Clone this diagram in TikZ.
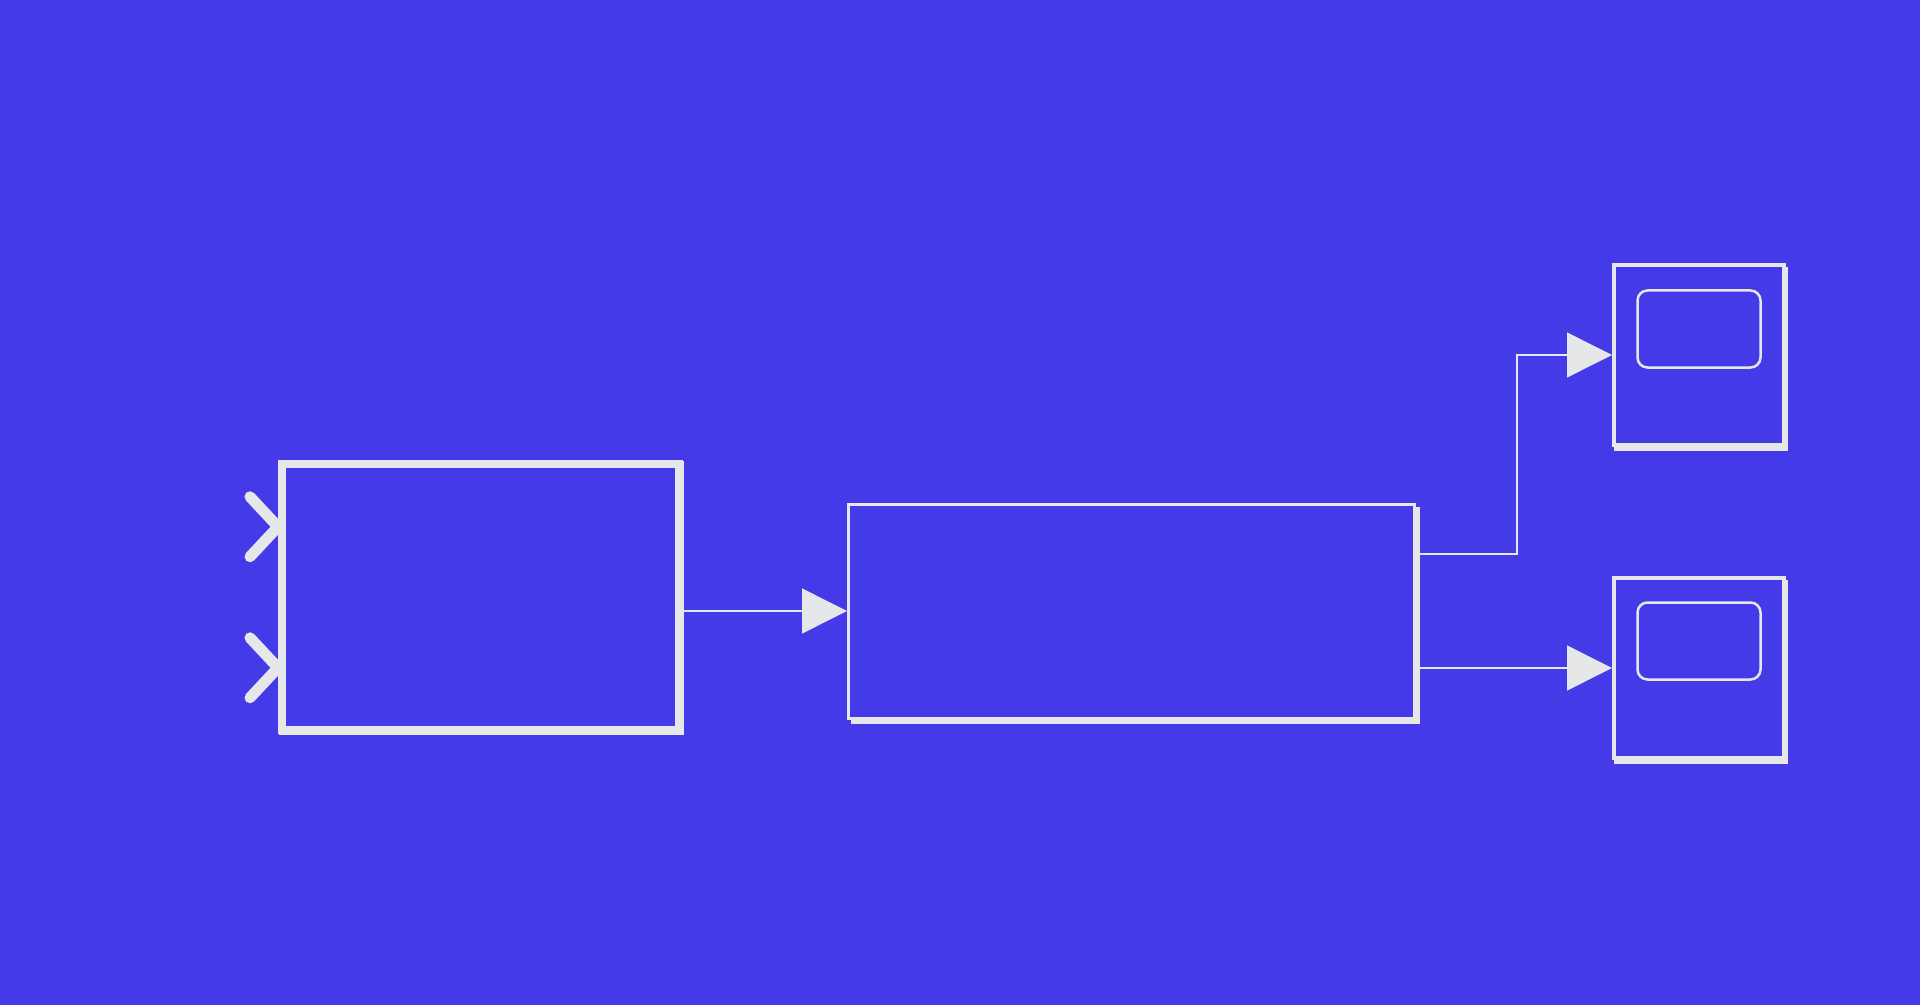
\documentclass[tikz,border=0pt]{standalone}
\usetikzlibrary{arrows.meta,backgrounds}

\definecolor{bg}{HTML}{443AE8}
\definecolor{fg}{HTML}{E6E7E8}

\begin{document}
\begin{tikzpicture}[x=0.5pt,y=-0.5pt,
				block/.style={rectangle,draw=fg,fill=bg,inner sep=0pt},
				source/.style={block,line width=3.75pt,minimum width=198.5pt,minimum height=133pt},
				system/.style={block,line width=1.5pt,minimum width=283pt,minimum height=107pt},
				scope/.style={block,line width=2pt,minimum width=85pt,minimum height=90pt},
				screen/.style={block,rounded corners=5pt,line width=1.25pt,minimum width=61.5pt,minimum height=38.5pt},
				shade/.style={fill=fg},
				port/.style={draw=fg,line width=5.5pt,line cap=round,line join=round},
				conn/.style={draw=fg,line width=0.7pt,-{Triangle[length=22.5pt,width=22.5pt]}}]
				\useasboundingbox (0,0) rectangle (1920,1005);
				\begin{scope}[on background layer]
					\fill[bg] (0,0) rectangle (1920,1005);
				\end{scope}

				\node[source] (src)    at (480.25,596.75) {};
				\node[system] (sys)    at (1131.5,611)    {};
				\node[scope]  (scopeA) at (1699,355)      {};
				\node[scope]  (scopeB) at (1699,668)      {};
				\node[screen] (screenA) at ([yshift=13pt]scopeA.center) {};
				\node[screen] (screenB) at ([yshift=13.5pt]scopeB.center) {};

				% drop shadows
				\begin{scope}[on background layer]
					\fill[shade] ([shift={(0.5pt,-0.5pt)}]src.north west) rectangle ([shift={(0.5pt,-0.5pt)}]src.south east);
					\fill[shade] ([shift={(2pt,-2pt)}]sys.north west) rectangle ([shift={(2pt,-2pt)}]sys.south east);
					\fill[shade] ([shift={(1pt,-2pt)}]scopeA.north west) rectangle ([shift={(1pt,-2pt)}]scopeA.south east);
					\fill[shade] ([shift={(1pt,-2pt)}]scopeB.north west) rectangle ([shift={(1pt,-2pt)}]scopeB.south east);
				\end{scope}

				\coordinate (in1) at ([yshift=35pt]src.west);
				\coordinate (in2) at ([yshift=-35.5pt]src.west);
				\draw[port] ([shift={(-14pt,15pt)}]in1) -- (in1) -- ++(-14pt,-15pt);
				\draw[port] ([shift={(-14pt,15pt)}]in2) -- (in2) -- ++(-14pt,-15pt);

				\draw[conn] (src.east |- sys.west) -- (sys.west);
				\draw[conn] ([yshift=28.5pt]sys.east) -- ++(50.5pt,0) |- (scopeA.west);
				\draw[conn] (sys.east |- scopeB.west) -- (scopeB.west);
			\end{tikzpicture}
\end{document}
